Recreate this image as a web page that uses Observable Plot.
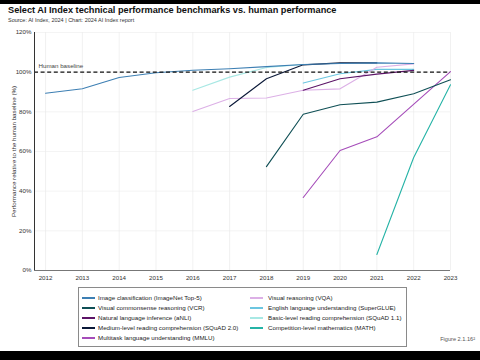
<!DOCTYPE html>
<html><head><meta charset="utf-8">
<script src="https://cdn.jsdelivr.net/npm/d3@7"></script>
<script src="https://cdn.jsdelivr.net/npm/@observablehq/plot@0.6"></script>
<style>
html,body{margin:0;padding:0;background:#000;}
#wrap{position:relative;width:480px;height:360px;background:#fff;overflow:hidden;font-family:"Liberation Sans",Arial,sans-serif;}
.bar{position:absolute;left:0;width:480px;background:#000;}
#title{position:absolute;left:8px;top:5px;font-size:9.2px;font-weight:bold;color:#111;white-space:nowrap;}
#sub{position:absolute;left:8px;top:17px;font-size:5.5px;color:#333;white-space:nowrap;}
#chart{position:absolute;left:0;top:26px;}
#legend{position:absolute;left:78px;top:287px;width:329px;height:60px;border:1px solid #8a8a8a;box-sizing:border-box;}
.item{position:absolute;height:8px;font-size:6.2px;color:#222;white-space:nowrap;line-height:8px;}
.sw{position:absolute;top:3px;width:13px;height:1.6px;}
.lt{position:absolute;top:0;}
#fig{position:absolute;right:5px;top:336px;font-size:5.6px;color:#555;}
</style></head>
<body>
<div id="wrap">
  <div class="bar" style="top:0;height:4px"></div>
  <div id="title">Select AI Index technical performance benchmarks vs. human performance</div>
  <div id="sub">Source: AI Index, 2024 | Chart: 2024 AI Index report</div>
  <div id="chart"></div>
  <div id="legend"></div>
  <div id="fig">Figure 2.1.16²</div>
  <div class="bar" style="top:351px;height:9px"></div>
</div>
<script>
// Series names (legend order) and colours
const seriesNames = [
  "Image classification (ImageNet Top-5)",
  "Visual commonsense reasoning (VCR)",
  "Natural language inference (aNLI)",
  "Medium-level reading comprehension (SQuAD 2.0)",
  "Multitask language understanding (MMLU)",
  "Visual reasoning (VQA)",
  "English language understanding (SuperGLUE)",
  "Basic-level reading comprehension (SQuAD 1.1)",
  "Competition-level mathematics (MATH)"
];
const seriesColors = ["#3d7fb3","#0f4f55","#5c1467","#0a1838","#a54cb9","#dcb0e6","#6cc6e0","#a8e8e4","#25b3a6"];

// Values (% of human baseline) by year
const imagenetYears = [2012,2013,2014,2015,2016,2017,2018,2019,2020,2021,2022];
const imagenetVals  = [89.4,91.6,97.3,99.7,101.0,101.7,102.8,103.9,104.4,104.7,104.4];
const vcrYears = [2018,2019,2020,2021,2022,2023];
const vcrVals  = [52.4,78.8,83.6,84.9,89.1,96.2];
const anliYears = [2019,2020,2021,2022];
const anliVals  = [90.9,96.7,99.0,100.9];
const squad2Years = [2017,2018,2019,2020,2021];
const squad2Vals  = [82.7,96.7,103.7,104.7,104.7];
const mmluYears = [2019,2020,2021,2023];
const mmluVals  = [36.8,60.5,67.4,100.3];
const vqaYears = [2016,2017,2018,2019,2020,2021,2022];
const vqaVals  = [80.2,86.7,87.0,90.9,91.6,102.5,104.2];
const superglueYears = [2019,2020,2021,2022];
const superglueVals  = [94.5,99.2,101.4,101.4];
const squad1Years = [2016,2017,2018,2019];
const squad1Vals  = [90.9,97.5,102.4,103.9];
const mathYears = [2021,2022,2023];
const mathVals  = [8.1,57.0,93.6];

const yearsBySeries = [imagenetYears,vcrYears,anliYears,squad2Years,mmluYears,vqaYears,superglueYears,squad1Years,mathYears];
const valsBySeries  = [imagenetVals,vcrVals,anliVals,squad2Vals,mmluVals,vqaVals,superglueVals,squad1Vals,mathVals];

const xTicks = [2012,2013,2014,2015,2016,2017,2018,2019,2020,2021,2022,2023];
const yTicks = [0,20,40,60,80,100,120];
const baselineVal = [100];
const baselineLabel = ["Human baseline"];

const rows = [];
seriesNames.forEach((s,i)=>{
  yearsBySeries[i].forEach((yr,j)=>rows.push({series:s, year:yr, value:valsBySeries[i][j]}));
});
const drawOrder = seriesNames.slice().reverse();

const plot = Plot.plot({
  width: 480,
  height: 258,
  marginLeft: 34,
  marginRight: 30,
  marginTop: 6,
  marginBottom: 14,
  style: {fontFamily: "'Liberation Sans', Arial, sans-serif", fontSize: "6.2px", color: "#333", background: "#fff"},
  x: {domain: [2011.7, 2023], ticks: xTicks, tickFormat: d => String(d), tickSize: 0, tickPadding: 5, label: null},
  y: {domain: [0, 120], ticks: yTicks, tickFormat: d => d + "%", tickSize: 0, tickPadding: 3,
      label: "Performance relative to the human baseline (%)", labelAnchor: "center", labelArrow: "none", labelOffset: 23},
  color: {domain: seriesNames, range: seriesColors},
  marks: [
    Plot.gridX(xTicks, {stroke: "#e8e8e8", strokeOpacity: 1, strokeWidth: 0.6}),
    Plot.gridY(yTicks.filter(d=>d>0), {stroke: "#ececec", strokeOpacity: 1, strokeWidth: 0.6}),
    ...drawOrder.map(s => Plot.line(rows.filter(r=>r.series===s), {x: "year", y: "value", stroke: "series", strokeWidth: 1.1, curve: "linear"})),
    Plot.ruleY(baselineVal, {stroke: "#111", strokeWidth: 1.3, strokeDasharray: "4,2.6"}),
    Plot.text(baselineLabel, {x: 2011.7, y: baselineVal[0], text: d => d, textAnchor: "start", dx: 4, dy: -6, fill: "#444", fontSize: 6.2}),
    Plot.ruleY([0], {stroke: "#777", strokeWidth: 1.2}),
    Plot.ruleX([2011.7], {stroke: "#333", strokeWidth: 1})
  ]
});
document.getElementById("chart").appendChild(plot);

// Legend
const leg = document.getElementById("legend");
seriesNames.forEach((s,i)=>{
  const col = i < 5 ? 0 : 1;
  const row = col === 0 ? i : i - 5;
  const it = document.createElement("div");
  it.className = "item";
  it.style.left = (col === 0 ? 3 : 171) + "px";
  it.style.top = (6 + row * 10) + "px";
  const sw = document.createElement("div");
  sw.className = "sw"; sw.style.left = "0px"; sw.style.background = seriesColors[i];
  const t = document.createElement("span");
  t.className = "lt"; t.style.left = (col === 0 ? 16 : 18) + "px"; t.textContent = s;
  it.appendChild(sw); it.appendChild(t);
  leg.appendChild(it);
});
</script>
</body></html>
